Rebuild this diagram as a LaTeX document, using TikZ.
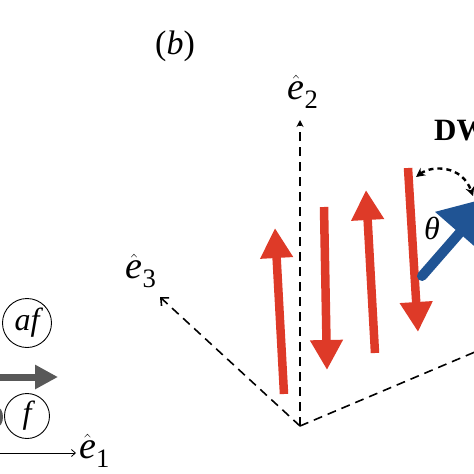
\documentclass[tikz,border=0pt]{standalone}
\usepackage{amsmath}
\usepackage{fontspec}
\setmainfont{Liberation Serif}
\usetikzlibrary{arrows.meta}
\definecolor{redarr}{RGB}{222,58,40}
\definecolor{bluearr}{RGB}{32,84,148}
\definecolor{grayarr}{RGB}{88,88,88}
\tikzset{
  axisdash/.style={line width=1.6pt, dash pattern=on 9pt off 6pt},
  redspin/.style={draw=redarr, line width=8.5pt, -{Triangle[width=31pt,length=30pt]}},
  bluespin/.style={draw=bluearr, line width=10pt, line cap=round, -{Triangle[width=62pt,length=48pt]}},
  lab/.style={inner sep=0pt, font=\fontsize{38}{42}\selectfont},
  phase/.style={draw, circle, line width=0.9pt, inner sep=0pt, font=\fontsize{32}{36}\selectfont\itshape}
}
\newcommand{\ehat}[1]{$\hat{\textit{e}}_{\text{#1}}$}
\begin{document}
\begin{tikzpicture}[x=1pt,y=-1pt]
\useasboundingbox (0,0) rectangle (474,474);
\clip (0,0) rectangle (474,474);
% axes
\coordinate (O) at (300,426);
\coordinate (E2) at (300,120);
\coordinate (E3) at (160,297);
\coordinate (E1) at (560,316);
\draw[axisdash, -{Stealth[length=7pt,width=7pt]}] (O) -- (E2);
\draw[axisdash, -{Straight Barb[length=6pt,width=11pt,line width=1.6pt]}] (O) -- (E3);
\draw[axisdash] (O) -- (E1);
\node[lab] (le2) at (303,92) {\ehat{2}};
\node[lab] (le3) at (141,271) {\ehat{3}};
\node[lab, font=\fontsize{34}{38}\selectfont] (lb) at (175,46) {(\textit{b})};
% left part
\node[phase, minimum size=49pt] (af) at (27,323) {af};
\node[phase, minimum size=45pt] (f) at (27,416) {f};
\coordinate (g0) at (-10,377);
\coordinate (g1) at (58,377);
\draw[draw=grayarr, line width=7pt, -{Triangle[width=23pt,length=23pt]}] (g0) -- (g1);
\fill[grayarr] (-3,417) ellipse (6pt and 10pt);
\coordinate (a0) at (-5,453);
\coordinate (a1) at (76,453);
\draw[line width=0.8pt, -{Straight Barb[length=4pt,width=7pt]}] (a0) -- (a1);
\node[lab, anchor=west] (le1) at (79,451) {\ehat{1}};
% red spins
\coordinate (r1a) at (284,394); \coordinate (r1b) at (275,228);
\coordinate (r2a) at (324,207); \coordinate (r2b) at (327,370);
\coordinate (r3a) at (375,353); \coordinate (r3b) at (366,190);
\coordinate (r4a) at (408,168); \coordinate (r4b) at (418,332);
\draw[redspin] (r1a) -- (r1b);
\draw[redspin] (r2a) -- (r2b);
\draw[redspin] (r3a) -- (r3b);
\draw[redspin] (r4a) -- (r4b);
% blue spin
\coordinate (b0) at (422,276);
\coordinate (b1) at (491,197);
\draw[bluespin] (b0) -- (b1);
% angle
\coordinate (t0) at (416,177);
\coordinate (t1) at (473,196);
\draw[line width=2.4pt, dash pattern=on 5pt off 4pt, {Stealth[length=9pt,width=9pt]}-{Stealth[length=9pt,width=9pt]}]
  (t0) .. controls (432,165) and (462,165) .. (t1);
\node[lab, font=\fontsize{32}{36}\selectfont\itshape] (th) at (432,228) {θ};
\node[lab, anchor=west, font=\fontsize{31}{35}\selectfont\bfseries] (dw) at (434,131) {DW};
\end{tikzpicture}
\end{document}
